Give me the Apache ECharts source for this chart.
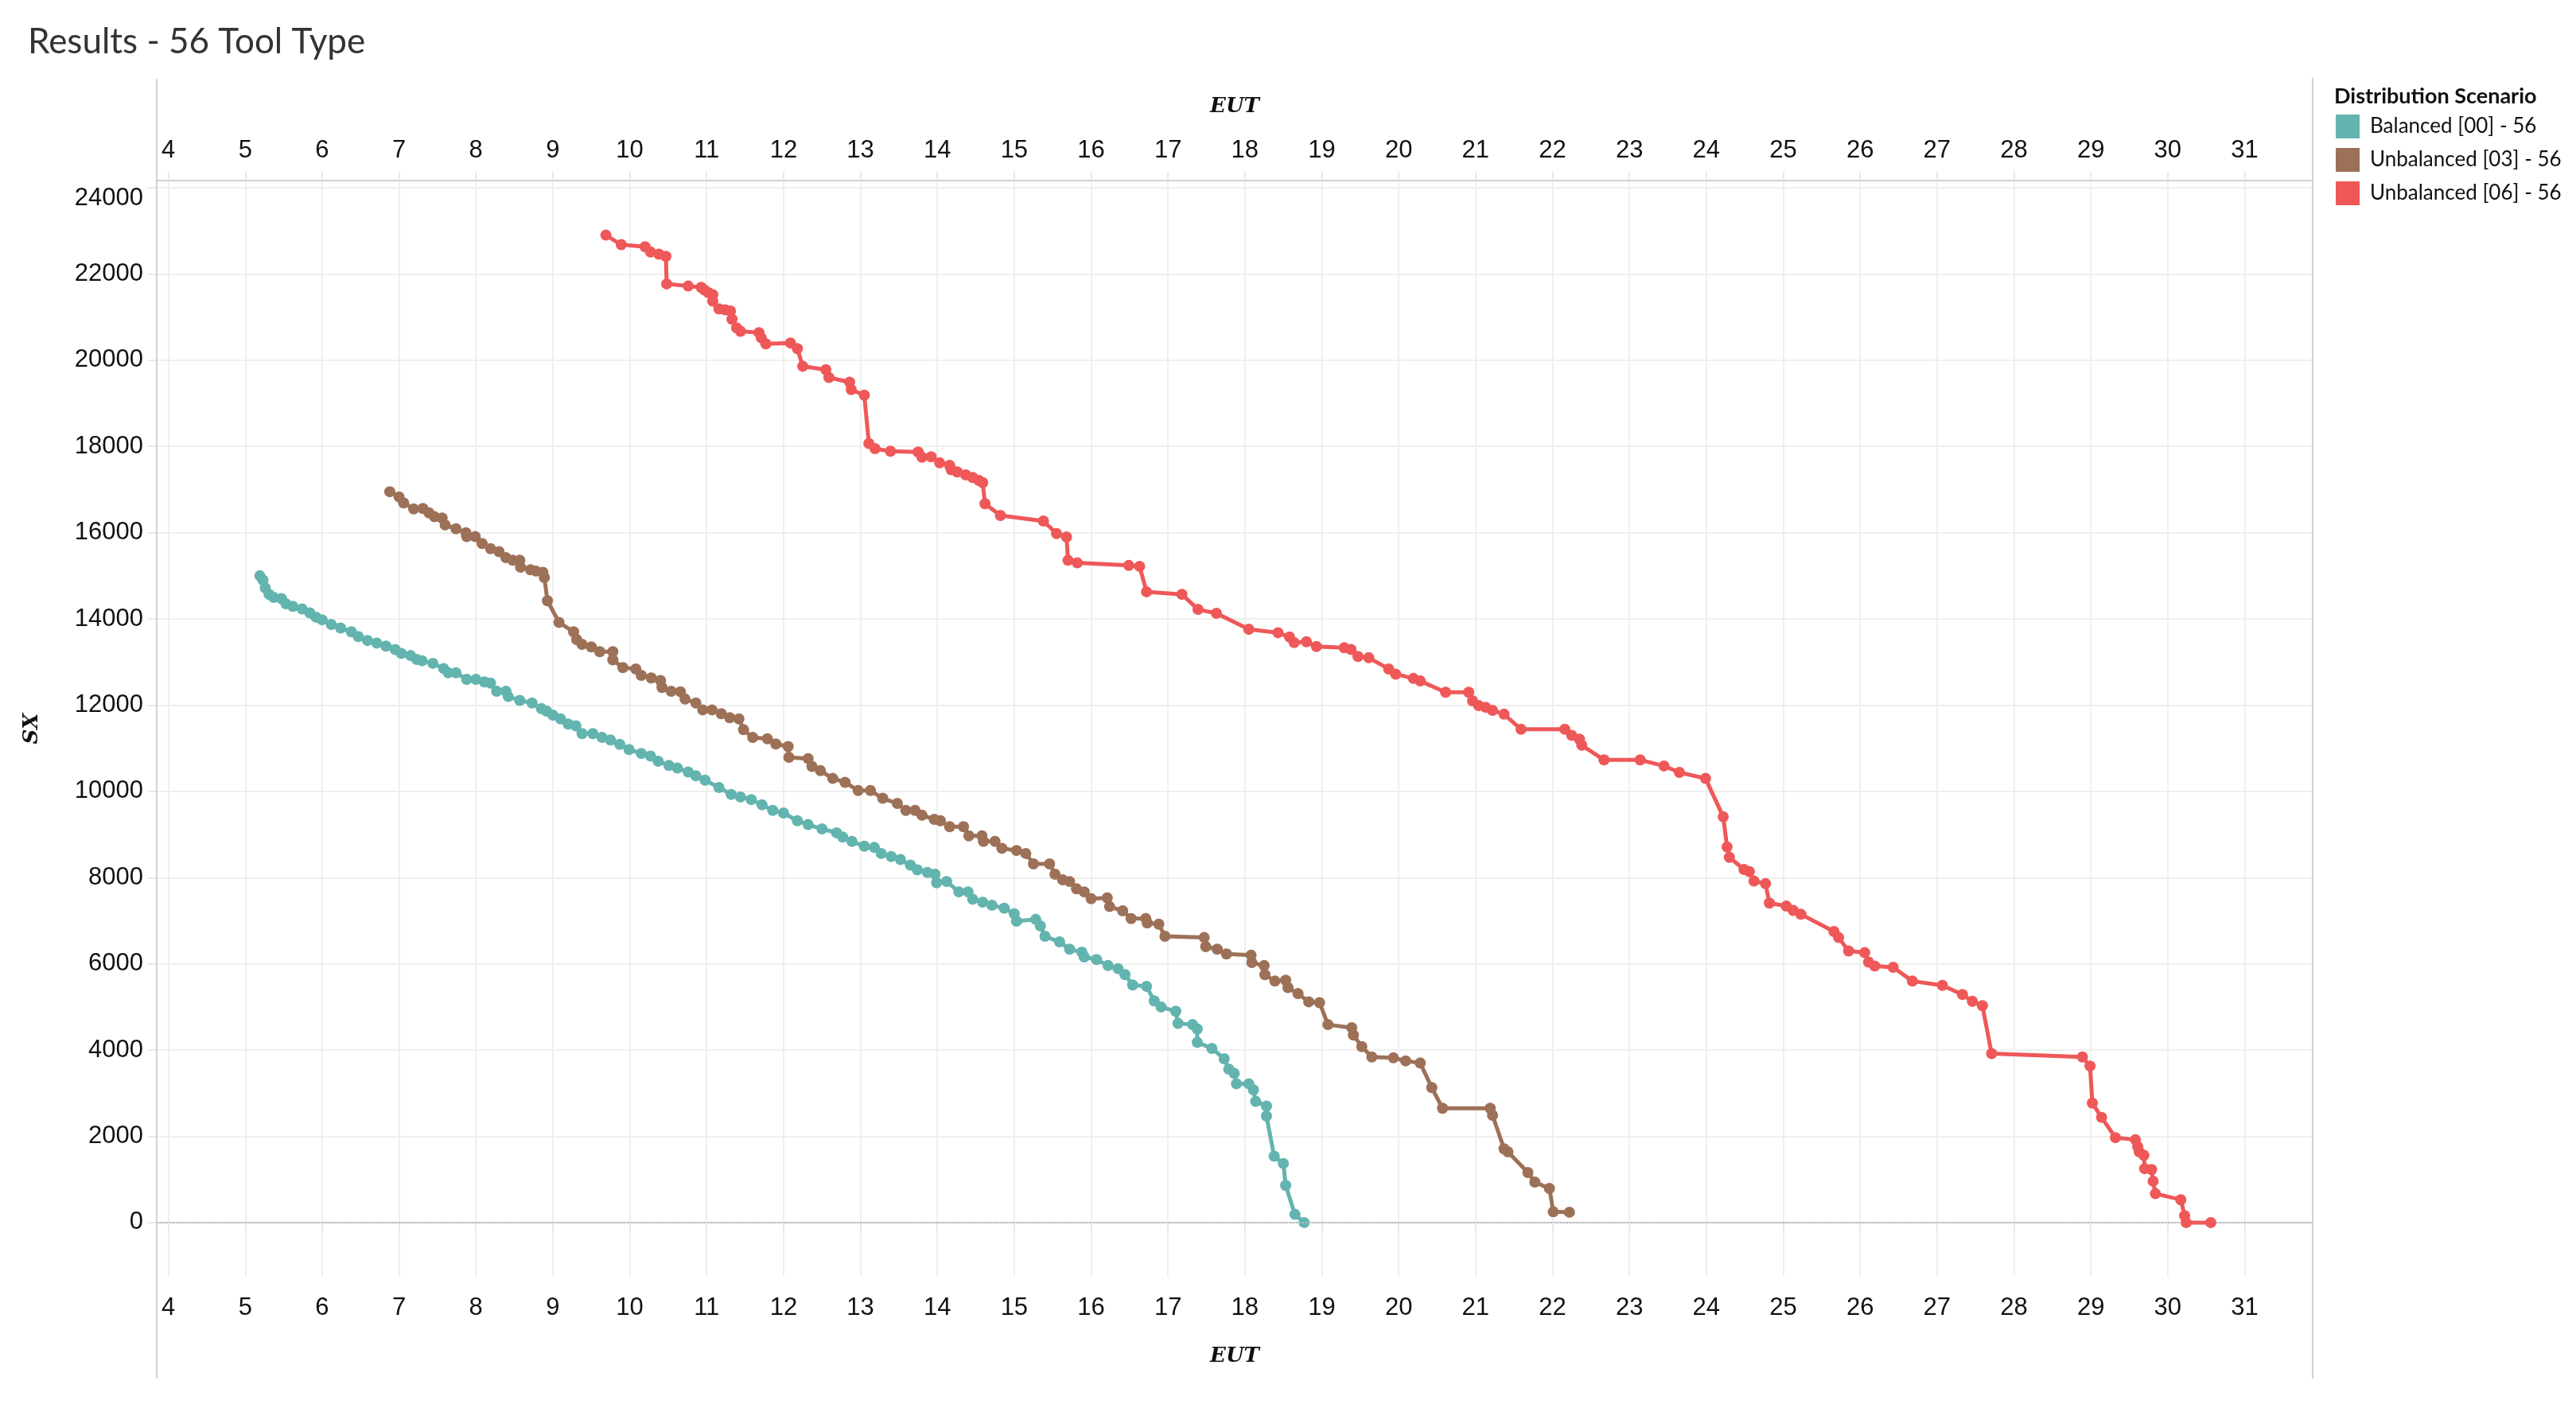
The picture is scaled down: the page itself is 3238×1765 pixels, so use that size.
<!DOCTYPE html>
<html>
<head>
<meta charset="utf-8">
<script src="https://cdn.jsdelivr.net/npm/echarts@6/dist/echarts.min.js"></script>
<style>
html,body{margin:0;padding:0;background:#fff;}
#chart{width:3238px;height:1765px;}
</style>
</head>
<body>
<div id="chart"></div>
<script>
var seriesNames = ['Balanced [00] - 56', 'Unbalanced [03] - 56', 'Unbalanced [06] - 56'];
var seriesColors = ['#63b4ae', '#9d7157', '#ef5858'];
var xTicks = [4,5,6,7,8,9,10,11,12,13,14,15,16,17,18,19,20,21,22,23,24,25,26,27,28,29,30,31];
var yTicks = [0,2000,4000,6000,8000,10000,12000,14000,16000,18000,20000,22000,24000];

var balanced = [
[5.19,15000],[5.23,14900],[5.26,14720],[5.31,14570],[5.37,14500],[5.47,14470],[5.53,14350],[5.62,14290],[5.74,14230],[5.84,14140],
[5.92,14040],[6.00,13980],[6.12,13870],[6.24,13790],[6.38,13700],[6.47,13590],[6.59,13500],[6.71,13440],[6.83,13370],[6.95,13290],
[7.03,13200],[7.15,13150],[7.23,13060],[7.30,13030],[7.44,12970],[7.58,12850],[7.64,12750],[7.74,12750],[7.88,12600],[8.00,12600],
[8.11,12540],[8.19,12510],[8.27,12320],[8.39,12320],[8.42,12200],[8.57,12110],[8.73,12050],[8.85,11920],[8.92,11860],[9.00,11770],
[9.10,11680],[9.20,11560],[9.30,11520],[9.38,11340],[9.52,11340],[9.64,11250],[9.75,11190],[9.87,11090],[9.99,10970],[10.15,10880],
[10.27,10820],[10.37,10700],[10.51,10600],[10.62,10540],[10.76,10450],[10.86,10360],[10.98,10260],[11.16,10090],[11.32,9930],[11.44,9870],
[11.58,9810],[11.72,9690],[11.86,9560],[12.00,9500],[12.18,9320],[12.32,9230],[12.50,9130],[12.69,9040],[12.77,8940],[12.89,8840],
[13.05,8730],[13.18,8700],[13.27,8560],[13.40,8490],[13.52,8420],[13.65,8290],[13.74,8180],[13.87,8120],[13.97,8080],[13.99,7880],
[14.12,7910],[14.28,7670],[14.40,7670],[14.46,7500],[14.59,7430],[14.71,7360],[14.87,7290],[15.00,7160],[15.03,6990],[15.28,7030],
[15.34,6880],[15.40,6640],[15.59,6510],[15.72,6340],[15.88,6270],[15.91,6160],[16.07,6100],[16.22,5960],[16.35,5890],[16.44,5750],
[16.54,5510],[16.72,5480],[16.82,5140],[16.91,5000],[17.10,4900],[17.13,4620],[17.32,4590],[17.38,4490],[17.38,4180],[17.57,4040],
[17.73,3800],[17.79,3560],[17.86,3460],[17.89,3220],[18.05,3220],[18.11,3080],[18.14,2810],[18.28,2700],[18.28,2470],[18.38,1540],
[18.50,1370],[18.53,860],[18.65,190],[18.77,0]
];

var unbalanced03 = [
[6.88,16950],[7.00,16830],[7.06,16690],[7.19,16550],[7.31,16560],[7.39,16460],[7.46,16370],[7.56,16340],[7.60,16180],[7.74,16090],
[7.87,16000],[7.88,15910],[7.99,15910],[8.08,15750],[8.19,15630],[8.30,15560],[8.39,15420],[8.48,15360],[8.57,15360],[8.58,15200],
[8.71,15140],[8.78,15110],[8.87,15080],[8.89,14960],[8.93,14420],[9.08,13920],[9.27,13700],[9.31,13520],[9.38,13410],[9.50,13350],
[9.61,13240],[9.78,13240],[9.78,13050],[9.91,12870],[10.08,12840],[10.15,12690],[10.28,12630],[10.40,12570],[10.42,12410],[10.54,12320],
[10.66,12310],[10.72,12140],[10.86,12050],[10.95,11890],[11.07,11890],[11.19,11800],[11.30,11710],[11.42,11680],[11.48,11430],[11.60,11250],
[11.79,11220],[11.90,11100],[12.06,11040],[12.07,10790],[12.32,10760],[12.37,10580],[12.48,10480],[12.64,10300],[12.80,10210],[12.97,10020],
[13.13,10020],[13.29,9840],[13.48,9720],[13.59,9560],[13.71,9560],[13.80,9450],[13.96,9350],[14.04,9320],[14.16,9180],[14.34,9180],
[14.41,8970],[14.58,8970],[14.60,8840],[14.75,8840],[14.84,8680],[15.03,8630],[15.15,8560],[15.25,8320],[15.46,8320],[15.53,8080],
[15.63,7950],[15.72,7910],[15.81,7740],[15.91,7670],[16.00,7510],[16.21,7530],[16.24,7330],[16.41,7230],[16.52,7050],[16.71,7050],
[16.73,6950],[16.88,6920],[16.96,6640],[17.47,6610],[17.49,6400],[17.64,6340],[17.76,6230],[18.08,6200],[18.09,6030],[18.25,5960],
[18.26,5750],[18.39,5600],[18.53,5620],[18.56,5450],[18.69,5310],[18.83,5120],[18.97,5100],[19.08,4590],[19.39,4520],[19.41,4350],
[19.52,4080],[19.65,3840],[19.93,3820],[20.09,3750],[20.28,3700],[20.43,3130],[20.57,2650],[21.19,2650],[21.22,2490],[21.37,1710],
[21.42,1640],[21.68,1160],[21.77,940],[21.96,790],[22.01,250],[22.22,240]
];

var unbalanced06 = [
[9.69,22900],[9.89,22680],[10.20,22630],[10.27,22510],[10.38,22460],[10.47,22410],[10.48,21770],[10.76,21720],[10.93,21690],[10.97,21630],
[11.02,21570],[11.08,21520],[11.08,21370],[11.16,21190],[11.24,21170],[11.31,21140],[11.33,20950],[11.39,20750],[11.44,20670],[11.68,20640],
[11.71,20520],[11.77,20380],[12.09,20400],[12.18,20270],[12.25,19860],[12.55,19780],[12.59,19600],[12.86,19490],[12.88,19320],[13.05,19190],
[13.11,18070],[13.19,17950],[13.39,17890],[13.75,17870],[13.80,17750],[13.92,17760],[14.03,17620],[14.16,17560],[14.18,17460],[14.26,17410],
[14.37,17340],[14.46,17280],[14.54,17210],[14.59,17160],[14.62,16670],[14.82,16400],[15.38,16270],[15.55,15980],[15.68,15900],[15.70,15360],
[15.82,15300],[16.49,15240],[16.63,15220],[16.72,14630],[17.18,14570],[17.39,14220],[17.63,14130],[18.05,13760],[18.43,13680],[18.58,13580],
[18.64,13450],[18.80,13470],[18.93,13360],[19.29,13330],[19.38,13290],[19.47,13130],[19.61,13100],[19.87,12840],[19.96,12720],[20.19,12620],
[20.28,12560],[20.61,12300],[20.91,12300],[20.96,12100],[21.04,11990],[21.13,11950],[21.22,11880],[21.37,11790],[21.59,11440],[22.16,11440],
[22.25,11300],[22.35,11210],[22.38,11070],[22.67,10730],[23.14,10730],[23.45,10590],[23.65,10440],[23.99,10300],[24.22,9410],[24.27,8710],
[24.30,8470],[24.49,8190],[24.56,8140],[24.62,7920],[24.77,7860],[24.82,7410],[25.04,7340],[25.13,7240],[25.23,7150],[25.66,6750],
[25.72,6610],[25.85,6300],[26.06,6260],[26.11,6040],[26.19,5950],[26.43,5920],[26.68,5600],[27.07,5500],[27.33,5290],[27.46,5130],
[27.59,5030],[27.71,3920],[28.89,3840],[28.99,3630],[29.02,2770],[29.14,2440],[29.32,1970],[29.58,1920],[29.61,1760],[29.63,1640],
[29.69,1560],[29.70,1250],[29.79,1230],[29.81,960],[29.84,670],[30.17,530],[30.22,160],[30.24,0],[30.56,0]
];

var seriesData = [balanced, unbalanced03, unbalanced06];

var chart = echarts.init(document.getElementById('chart'), null, {renderer: 'canvas'});

var tickFont = 'Liberation Sans';
var gridColor = '#efefef';
var yTop = yTicks[yTicks.length - 1];

function plain(v) { return String(v); }
function yLabel(v) { return v === yTop ? '{top|' + v + '}' : String(v); }

function xAxisDef(pos, nameGap, tickMargin) {
  return {
    type: 'value', position: pos,
    min: 3.849, max: 31.885,
    name: 'EUT', nameLocation: 'middle', nameGap: nameGap,
    nameTextStyle: {fontFamily: 'DejaVu Serif', fontStyle: 'italic', fontWeight: 'bold', fontSize: 26, color: '#111'},
    axisLine: {show: true, lineStyle: {color: '#d2d2d2', width: 2}},
    axisTick: {show: true, length: 11, customValues: xTicks, lineStyle: {color: '#e8e8e8', width: 2}},
    axisLabel: {customValues: xTicks, formatter: plain, fontFamily: tickFont, fontSize: 31, color: '#111', margin: tickMargin},
    splitLine: {show: true, lineStyle: {color: gridColor, width: 2}}
  };
}

var series = seriesNames.map(function (nm, i) {
  var s = {
    name: nm, type: 'line',
    xAxisIndex: 0, yAxisIndex: 0,
    data: seriesData[i],
    symbol: 'circle', symbolSize: 14, showAllSymbol: true,
    lineStyle: {width: 5, color: seriesColors[i]},
    itemStyle: {color: seriesColors[i]},
    emphasis: {disabled: true},
    z: 3 + i
  };
  if (i === 0) {
    s.markLine = {
      silent: true, symbol: 'none', label: {show: false},
      lineStyle: {type: 'dotted', color: '#bdbdbd', width: 2},
      data: [{yAxis: 0}]
    };
  }
  return s;
});

chart.setOption({
  animation: false,
  backgroundColor: '#ffffff',
  title: {
    text: 'Results - 56 Tool Type', left: 30, top: 26,
    textStyle: {fontFamily: 'Lato', fontWeight: 'normal', fontSize: 44, color: '#333'}
  },
  legend: {
    orient: 'vertical', left: 2936, top: 144,
    itemWidth: 30, itemHeight: 30, itemGap: 12, padding: 0,
    icon: 'rect',
    data: seriesNames.map(function (n) { return {name: n, icon: 'rect'}; }),
    textStyle: {fontFamily: 'Lato', fontSize: 26, color: '#111', padding: [0, 0, 0, 8]},
    selectedMode: false
  },
  grid: {left: 197, right: 331, top: 227, bottom: 160, containLabel: false},
  xAxis: [xAxisDef('bottom', 87, 24), xAxisDef('top', 80, 22)],
  yAxis: {
    type: 'value', min: -1256, max: 24166,
    name: 'SX', nameLocation: 'middle', nameGap: 144,
    nameTextStyle: {fontFamily: 'DejaVu Serif', fontStyle: 'italic', fontWeight: 'bold', fontSize: 26, color: '#111'},
    axisLine: {show: false},
    axisTick: {show: true, length: 11, customValues: yTicks, lineStyle: {color: '#e8e8e8', width: 2}},
    axisLabel: {
      customValues: yTicks, formatter: yLabel, fontFamily: tickFont, fontSize: 31, color: '#111', margin: 17,
      rich: {top: {fontFamily: tickFont, fontSize: 31, color: '#111', padding: [26, 0, 0, 0]}}
    },
    splitLine: {show: true, lineStyle: {color: gridColor, width: 2}}
  },
  graphic: [
    {type: 'line', shape: {x1: 197, y1: 99, x2: 197, y2: 1733}, style: {stroke: '#d2d2d2', lineWidth: 2}, z: 10},
    {type: 'line', shape: {x1: 2907, y1: 98, x2: 2907, y2: 1733}, style: {stroke: '#d2d2d2', lineWidth: 2}, z: 10},
    {type: 'text', left: 2934, top: 108,
     style: {text: 'Distribution Scenario', fontFamily: 'Lato', fontWeight: 'bold', fontSize: 27, fill: '#111'}}
  ],
  series: series
});
</script>
</body>
</html>
